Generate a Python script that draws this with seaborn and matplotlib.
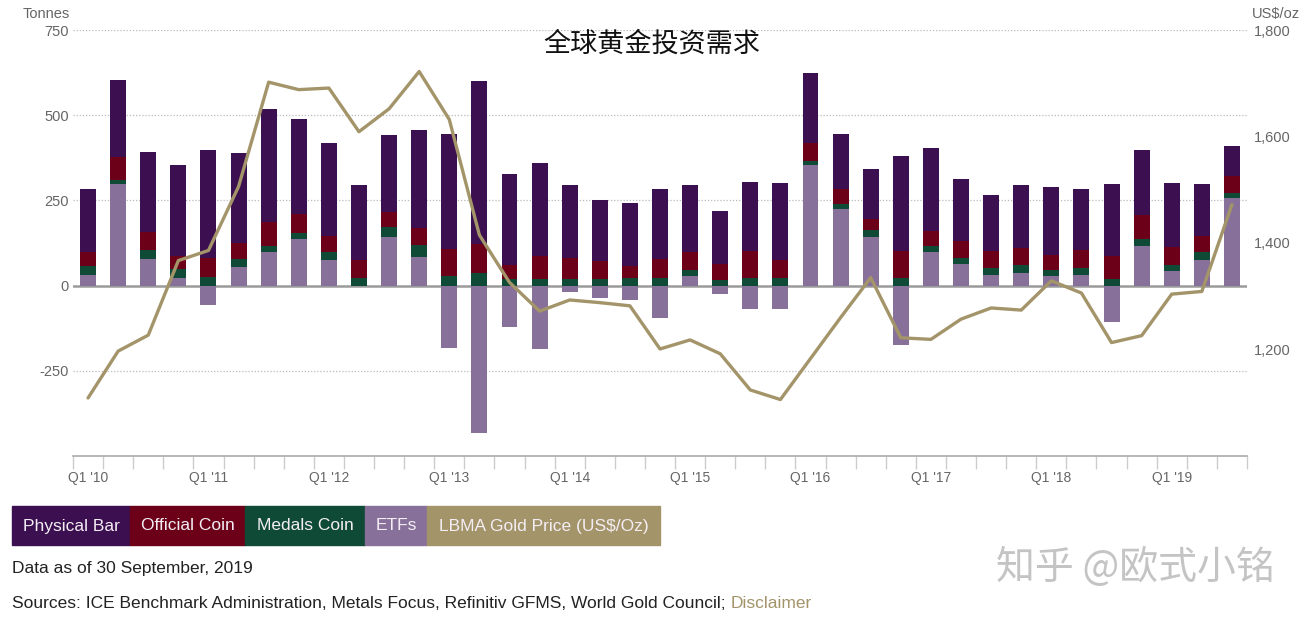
import numpy as np
import pandas as pd
import matplotlib
matplotlib.use("Agg")
import matplotlib.pyplot as plt
import seaborn as sns
from matplotlib.patches import Rectangle
from matplotlib.ticker import FuncFormatter

# Data (tonnes, quarterly Q1 2010 - Q3 2019)
quarters = [f"Q{q} '{y:02d}" for y in range(10, 20) for q in range(1, 5)][:39]
physical_bar = [184, 225, 236, 265, 316, 264, 331, 278, 272, 220,
                224, 287, 339, 479, 267, 272, 213, 178, 186, 205,
                195, 154, 204, 228, 208, 161, 147, 278, 245, 183,
                164, 185, 199, 179, 210, 189, 188, 151, 88]
official_coin = [42, 67, 53, 39, 56, 48, 70, 56, 47, 51,
                 45, 51, 77, 84, 41, 68, 61, 54, 34, 55,
                 54, 49, 78, 51, 50, 45, 32, 78, 44, 49,
                 49, 50, 46, 52, 68, 71, 54, 49, 49]
medals_coin = [25, 12, 27, 26, 25, 21, 18, 19, 25, 23,
               28, 33, 29, 37, 20, 20, 20, 18, 23, 23,
               16, 15, 23, 23, 13, 14, 19, 23, 17, 19,
               20, 22, 16, 20, 20, 22, 18, 22, 14]
etfs = [32, 299, 77, 23, -58, 56, 99, 136, 74, -2,
        144, 85, -183, -433, -121, -186, -18, -35, -43, -94,
        29, -25, -70, -70, 354, 225, 144, -175, 99, 62,
        32, 37, 29, 32, -107, 115, 42, 76, 258]
# LBMA gold price (US$/oz)
gold_price = [1109, 1197, 1227, 1367, 1386, 1506, 1702, 1688, 1691, 1609,
              1652, 1722, 1632, 1415, 1326, 1272, 1293, 1288, 1282, 1201,
              1218, 1192, 1124, 1106, 1183, 1260, 1335, 1222, 1219, 1257,
              1278, 1274, 1329, 1306, 1213, 1226, 1304, 1309, 1472]
year_labels = [f"Q1 '{y}" for y in range(10, 20)]

legend_names = ["Physical Bar", "Official Coin", "Medals Coin", "ETFs", "LBMA Gold Price (US$/Oz)"]
c_phys = "#3b0f50"
c_off = "#6c0019"
c_med = "#0e4a35"
c_etf = "#87709a"
c_gold = "#a3946a"

# Set aesthetics
sns.set_style("white")
plt.rcParams['font.family'] = ['Liberation Sans', 'DejaVu Sans']
plt.rcParams['axes.unicode_minus'] = False
cjk = ['Noto Sans CJK SC', 'DejaVu Sans']

W, H = 1311, 621
fig = plt.figure(figsize=(W / 100, H / 100), dpi=100)

def fx(x):
    return x / W

def fy(y):
    return 1 - y / H

ax = fig.add_axes([fx(73), fy(456), (1247 - 73) / W, (456 - 30) / H])

# stacked bars: draw cumulative tops, tallest first
df = pd.DataFrame({'quarter': quarters, 'physical': physical_bar, 'official': official_coin,
                   'medals': medals_coin, 'etfs': etfs, 'price': gold_price})
etf_pos = df['etfs'].clip(lower=0)
df['medals_top'] = etf_pos + df['medals']
df['official_top'] = df['medals_top'] + df['official']
df['physical_top'] = df['official_top'] + df['physical']

ax.axhline(0, color='#9a9a9a', lw=1.8, zorder=0.5)
for v in [750, 500, 250, -250]:
    ax.axhline(v, color='#bbbbbb', lw=0.9, ls=(0, (1, 1.5)), zorder=0.4)

for col, c in [('physical_top', c_phys), ('official_top', c_off), ('medals_top', c_med), ('etfs', c_etf)]:
    sns.barplot(data=df, x='quarter', y=col, order=quarters, color=c, saturation=1,
                width=0.53, errorbar=None, linewidth=0, ax=ax, zorder=2)

ax.set_ylim(-500, 750)
ax.set_yticks([-250, 0, 250, 500, 750])
ax.set_xticks(range(0, 39, 4))
ax.set_xticklabels(year_labels)
ax.set_xticks(np.arange(-0.5, 39, 1), minor=True)
ax.tick_params(axis='x', which='major', bottom=False, length=0, pad=11, labelsize=10, labelcolor='#666666')
ax.tick_params(axis='x', which='minor', bottom=True, length=9, color='#cccccc', width=1)
ax.tick_params(axis='y', length=0, pad=3, labelsize=10.5, labelcolor='#666666')
ax.set_xlabel('')
ax.set_ylabel('')
for s in ['top', 'left', 'right']:
    ax.spines[s].set_visible(False)
ax.spines['bottom'].set_color('#aaaaaa')
ax.spines['bottom'].set_linewidth(1.2)

# gold price on right axis
ax2 = ax.twinx()
sns.lineplot(data=df, x='quarter', y='price', sort=False, color=c_gold, linewidth=2.4, ax=ax2, zorder=3)
ax2.set_ylim(1000, 1800)
ax2.set_yticks([1200, 1400, 1600, 1800])
ax2.yaxis.set_major_formatter(FuncFormatter(lambda v, p: f"{int(v):,}"))
ax2.tick_params(axis='y', length=0, pad=5, labelsize=10.5, labelcolor='#666666')
ax2.tick_params(axis='x', which='both', bottom=False, labelbottom=False)
ax2.set_ylabel('')
ax2.set_xlabel('')
for s in ax2.spines.values():
    s.set_visible(False)
ax.set_xlim(-0.5, 38.5)
ax2.set_xlim(-0.5, 38.5)

fig.text(fx(70), fy(14), 'Tonnes', ha='right', va='center', fontsize=10.5, color='#666666')
fig.text(fx(1252), fy(14), 'US$/oz', ha='left', va='center', fontsize=10.5, color='#666666')
fig.text(fx(652), fy(44), '全球黄金投资需求', ha='center', va='center', fontsize=19.5,
         family=cjk, color='#111111')

# legend boxes
edges = [12, 130, 245, 365, 427, 660]
box_cols = [c_phys, c_off, c_med, c_etf, c_gold]
for i, (name, c) in enumerate(zip(legend_names, box_cols)):
    x0, x1 = edges[i], edges[i + 1]
    fig.patches.append(Rectangle((fx(x0), fy(545)), (x1 - x0) / W, 39 / H,
                                 transform=fig.transFigure, color=c, zorder=1))
    fig.text(fx((x0 + x1) / 2), fy(526), name, ha='center', va='center',
             fontsize=12.5, color='#f4eef4', zorder=2)

fig.text(fx(12), fy(568), 'Data as of 30 September, 2019', ha='left', va='center',
         fontsize=12.5, color='#222222')
src = fig.text(fx(12), fy(604), 'Sources: ICE Benchmark Administration, Metals Focus, Refinitiv GFMS, World Gold Council; ',
               ha='left', va='center', fontsize=12.5, color='#222222')
fig.canvas.draw()
bb = src.get_window_extent()
fig.text(bb.x1 / W, fy(604), 'Disclaimer', ha='left', va='center', fontsize=12.5, color=c_gold)

fig.text(fx(1135), fy(568), '知乎 @欧式小铭', ha='center', va='center', fontsize=28,
         family=cjk, color='#c4c4c4')

fig.savefig('out.png', dpi=100)
